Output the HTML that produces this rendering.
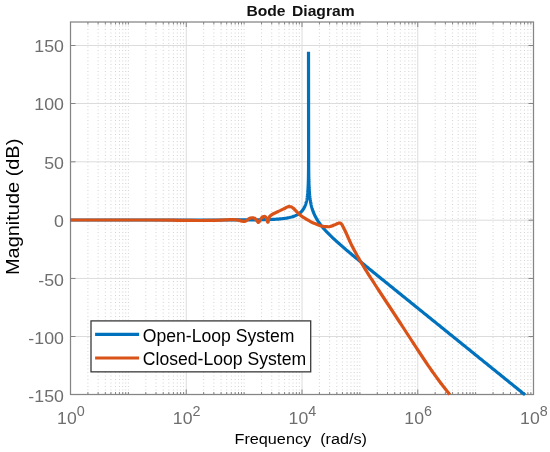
<!DOCTYPE html>
<html><head><meta charset="utf-8"><title>Bode Diagram</title>
<style>html,body{margin:0;padding:0;background:#fff;overflow:hidden}body{width:550px;height:452px;position:relative}</style></head>
<body>
<svg width="550" height="452" viewBox="0 0 550 452" style="position:absolute;left:0;top:0;font-family:'Liberation Sans',Arial,Helvetica,sans-serif">
<rect x="0" y="0" width="550" height="452" fill="#ffffff"/>
<path d="M87.92 22.0V394.5M98.11 22.0V394.5M105.34 22.0V394.5M110.95 22.0V394.5M115.54 22.0V394.5M119.41 22.0V394.5M122.77 22.0V394.5M125.73 22.0V394.5M128.38 22.0V394.5M145.80 22.0V394.5M155.99 22.0V394.5M163.22 22.0V394.5M168.83 22.0V394.5M173.41 22.0V394.5M177.29 22.0V394.5M180.64 22.0V394.5M183.60 22.0V394.5M203.67 22.0V394.5M213.86 22.0V394.5M221.09 22.0V394.5M226.70 22.0V394.5M231.29 22.0V394.5M235.16 22.0V394.5M238.52 22.0V394.5M241.48 22.0V394.5M244.12 22.0V394.5M261.55 22.0V394.5M271.74 22.0V394.5M278.97 22.0V394.5M284.58 22.0V394.5M289.16 22.0V394.5M293.04 22.0V394.5M296.39 22.0V394.5M299.35 22.0V394.5M319.42 22.0V394.5M329.61 22.0V394.5M336.84 22.0V394.5M342.45 22.0V394.5M347.04 22.0V394.5M350.91 22.0V394.5M354.27 22.0V394.5M357.23 22.0V394.5M359.88 22.0V394.5M377.30 22.0V394.5M387.49 22.0V394.5M394.72 22.0V394.5M400.33 22.0V394.5M404.91 22.0V394.5M408.79 22.0V394.5M412.14 22.0V394.5M415.10 22.0V394.5M435.17 22.0V394.5M445.36 22.0V394.5M452.59 22.0V394.5M458.20 22.0V394.5M462.79 22.0V394.5M466.66 22.0V394.5M470.02 22.0V394.5M472.98 22.0V394.5M475.62 22.0V394.5M493.05 22.0V394.5M503.24 22.0V394.5M510.47 22.0V394.5M516.08 22.0V394.5M520.66 22.0V394.5M524.54 22.0V394.5M527.89 22.0V394.5M530.85 22.0V394.5" fill="none" stroke="#d3d3d3" stroke-width="1" stroke-dasharray="1 2.5"/>
<path d="M186.25 22.0V394.5M302.00 22.0V394.5M417.75 22.0V394.5M70.5 45.50H533.5M70.5 103.50H533.5M70.5 161.80H533.5M70.5 220.20H533.5M70.5 278.45H533.5M70.5 336.50H533.5" fill="none" stroke="#dcdcdc" stroke-width="1"/>
<path d="M87.92 22.0v2.5M87.92 394.5v-2.5M98.11 22.0v2.5M98.11 394.5v-2.5M105.34 22.0v2.5M105.34 394.5v-2.5M110.95 22.0v2.5M110.95 394.5v-2.5M115.54 22.0v2.5M115.54 394.5v-2.5M119.41 22.0v2.5M119.41 394.5v-2.5M122.77 22.0v2.5M122.77 394.5v-2.5M125.73 22.0v2.5M125.73 394.5v-2.5M128.38 22.0v2.5M128.38 394.5v-2.5M145.80 22.0v2.5M145.80 394.5v-2.5M155.99 22.0v2.5M155.99 394.5v-2.5M163.22 22.0v2.5M163.22 394.5v-2.5M168.83 22.0v2.5M168.83 394.5v-2.5M173.41 22.0v2.5M173.41 394.5v-2.5M177.29 22.0v2.5M177.29 394.5v-2.5M180.64 22.0v2.5M180.64 394.5v-2.5M183.60 22.0v2.5M183.60 394.5v-2.5M186.25 22.0v5M186.25 394.5v-5M203.67 22.0v2.5M203.67 394.5v-2.5M213.86 22.0v2.5M213.86 394.5v-2.5M221.09 22.0v2.5M221.09 394.5v-2.5M226.70 22.0v2.5M226.70 394.5v-2.5M231.29 22.0v2.5M231.29 394.5v-2.5M235.16 22.0v2.5M235.16 394.5v-2.5M238.52 22.0v2.5M238.52 394.5v-2.5M241.48 22.0v2.5M241.48 394.5v-2.5M244.12 22.0v2.5M244.12 394.5v-2.5M261.55 22.0v2.5M261.55 394.5v-2.5M271.74 22.0v2.5M271.74 394.5v-2.5M278.97 22.0v2.5M278.97 394.5v-2.5M284.58 22.0v2.5M284.58 394.5v-2.5M289.16 22.0v2.5M289.16 394.5v-2.5M293.04 22.0v2.5M293.04 394.5v-2.5M296.39 22.0v2.5M296.39 394.5v-2.5M299.35 22.0v2.5M299.35 394.5v-2.5M302.00 22.0v5M302.00 394.5v-5M319.42 22.0v2.5M319.42 394.5v-2.5M329.61 22.0v2.5M329.61 394.5v-2.5M336.84 22.0v2.5M336.84 394.5v-2.5M342.45 22.0v2.5M342.45 394.5v-2.5M347.04 22.0v2.5M347.04 394.5v-2.5M350.91 22.0v2.5M350.91 394.5v-2.5M354.27 22.0v2.5M354.27 394.5v-2.5M357.23 22.0v2.5M357.23 394.5v-2.5M359.88 22.0v2.5M359.88 394.5v-2.5M377.30 22.0v2.5M377.30 394.5v-2.5M387.49 22.0v2.5M387.49 394.5v-2.5M394.72 22.0v2.5M394.72 394.5v-2.5M400.33 22.0v2.5M400.33 394.5v-2.5M404.91 22.0v2.5M404.91 394.5v-2.5M408.79 22.0v2.5M408.79 394.5v-2.5M412.14 22.0v2.5M412.14 394.5v-2.5M415.10 22.0v2.5M415.10 394.5v-2.5M417.75 22.0v5M417.75 394.5v-5M435.17 22.0v2.5M435.17 394.5v-2.5M445.36 22.0v2.5M445.36 394.5v-2.5M452.59 22.0v2.5M452.59 394.5v-2.5M458.20 22.0v2.5M458.20 394.5v-2.5M462.79 22.0v2.5M462.79 394.5v-2.5M466.66 22.0v2.5M466.66 394.5v-2.5M470.02 22.0v2.5M470.02 394.5v-2.5M472.98 22.0v2.5M472.98 394.5v-2.5M475.62 22.0v2.5M475.62 394.5v-2.5M493.05 22.0v2.5M493.05 394.5v-2.5M503.24 22.0v2.5M503.24 394.5v-2.5M510.47 22.0v2.5M510.47 394.5v-2.5M516.08 22.0v2.5M516.08 394.5v-2.5M520.66 22.0v2.5M520.66 394.5v-2.5M524.54 22.0v2.5M524.54 394.5v-2.5M527.89 22.0v2.5M527.89 394.5v-2.5M530.85 22.0v2.5M530.85 394.5v-2.5M70.5 45.50h5M533.5 45.50h-5M70.5 103.50h5M533.5 103.50h-5M70.5 161.80h5M533.5 161.80h-5M70.5 220.20h5M533.5 220.20h-5M70.5 278.45h5M533.5 278.45h-5M70.5 336.50h5M533.5 336.50h-5" fill="none" stroke="#858585" stroke-width="1"/>
<rect x="70.5" y="22.0" width="463.0" height="372.5" fill="none" stroke="#858585" stroke-width="1.25"/>
<path d="M70.50 220.00L71.50 220.00L72.50 220.00L73.50 220.00L74.50 220.00L75.50 220.00L76.50 220.00L77.50 220.00L78.50 220.00L79.50 220.00L80.50 220.00L81.50 220.00L82.50 220.00L83.50 220.00L84.50 220.00L85.50 220.00L86.50 220.00L87.50 220.00L88.50 220.00L89.50 220.00L90.50 220.00L91.50 220.00L92.50 220.00L93.50 220.00L94.50 220.00L95.50 220.00L96.50 220.00L97.50 220.00L98.50 220.00L99.50 220.00L100.50 220.00L101.50 220.00L102.50 220.00L103.50 220.00L104.50 220.00L105.50 220.00L106.50 220.00L107.50 220.00L108.50 220.00L109.50 220.00L110.50 220.00L111.50 220.00L112.50 220.00L113.50 220.00L114.50 220.00L115.50 220.00L116.50 220.00L117.50 220.00L118.50 220.00L119.50 220.00L120.50 220.00L121.50 220.00L122.50 220.00L123.50 220.00L124.50 220.00L125.50 220.00L126.50 220.00L127.50 220.00L128.50 220.00L129.50 220.00L130.50 220.00L131.50 220.00L132.50 220.00L133.50 220.00L134.50 220.00L135.50 220.00L136.50 220.00L137.50 220.00L138.50 220.00L139.50 220.00L140.50 220.00L141.50 220.00L142.50 220.00L143.50 220.00L144.50 220.00L145.50 220.00L146.50 220.00L147.50 220.00L148.50 220.00L149.50 220.00L150.50 220.00L151.50 220.00L152.50 220.00L153.50 220.00L154.50 220.00L155.50 220.00L156.50 220.00L157.50 220.00L158.50 220.00L159.50 220.00L160.50 220.00L161.50 220.00L162.50 220.00L163.50 220.00L164.50 220.00L165.50 220.00L166.50 220.00L167.50 220.00L168.50 220.00L169.50 220.00L170.50 220.00L171.50 220.00L172.50 220.00L173.50 220.00L174.50 220.00L175.50 220.00L176.50 220.00L177.50 220.00L178.50 220.00L179.50 220.00L180.50 220.00L181.50 220.00L182.50 220.00L183.50 220.00L184.50 220.00L185.50 220.00L186.50 220.00L187.50 220.00L188.50 220.00L189.50 220.00L190.50 220.00L191.50 220.00L192.50 220.00L193.50 220.00L194.50 220.00L195.50 220.00L196.50 220.00L197.50 220.00L198.50 220.00L199.50 220.00L200.50 220.00L201.50 220.00L202.50 220.00L203.50 220.00L204.50 220.00L205.50 220.00L206.50 220.00L207.50 220.00L208.50 220.00L209.50 220.00L210.50 220.00L211.50 220.00L212.50 220.00L213.50 219.99L214.50 219.99L215.50 219.99L216.50 219.99L217.50 219.99L218.50 219.99L219.50 219.99L220.50 219.99L221.50 219.99L222.50 219.99L223.50 219.99L224.50 219.99L225.50 219.99L226.50 219.99L227.50 219.98L228.50 219.98L229.50 219.98L230.50 219.98L231.50 219.98L232.50 219.98L233.50 219.97L234.50 219.97L235.50 219.97L236.50 219.97L237.50 219.96L238.50 219.96L239.50 219.96L240.50 219.96L241.50 219.95L242.50 219.95L243.50 219.94L244.50 219.94L245.50 219.93L246.50 219.93L247.50 219.92L248.50 219.92L249.50 219.91L250.50 219.90L251.50 219.89L252.50 219.88L253.50 219.87L254.50 219.86L255.50 219.85L256.50 219.84L257.50 219.83L258.50 219.81L259.50 219.80L260.50 219.78L261.50 219.76L262.50 219.74L263.50 219.72L264.50 219.69L265.50 219.67L266.50 219.64L267.50 219.61L268.50 219.58L269.50 219.54L270.50 219.50L271.50 219.46L272.50 219.41L273.50 219.36L274.50 219.31L275.50 219.25L276.50 219.18L277.50 219.11L278.50 219.04L279.50 218.95L280.50 218.86L281.50 218.76L282.50 218.65L283.50 218.53L284.50 218.40L285.50 218.25L286.50 218.09L287.50 217.92L288.50 217.72L289.50 217.51L290.50 217.27L291.50 217.01L292.50 216.72L293.50 216.39L294.50 216.03L295.50 215.61L296.50 215.15L297.50 214.62L298.50 214.01L299.50 213.31L300.00 212.92L300.05 212.88L300.10 212.84L300.15 212.80L300.20 212.76L300.25 212.71L300.30 212.67L300.35 212.63L300.40 212.58L300.45 212.54L300.50 212.50L300.55 212.45L300.60 212.41L300.65 212.36L300.70 212.32L300.75 212.27L300.80 212.22L300.85 212.18L300.90 212.13L300.95 212.08L301.00 212.03L301.05 211.99L301.10 211.94L301.15 211.89L301.20 211.84L301.25 211.79L301.30 211.74L301.35 211.69L301.40 211.63L301.45 211.58L301.50 211.53L301.55 211.48L301.60 211.42L301.65 211.37L301.70 211.31L301.75 211.26L301.80 211.20L301.85 211.15L301.90 211.09L301.95 211.03L302.00 210.98L302.05 210.92L302.10 210.86L302.15 210.80L302.20 210.74L302.25 210.68L302.30 210.62L302.35 210.56L302.40 210.49L302.45 210.43L302.50 210.37L302.55 210.30L302.60 210.24L302.65 210.17L302.70 210.11L302.75 210.04L302.80 209.97L302.85 209.90L302.90 209.83L302.95 209.76L303.00 209.69L303.05 209.62L303.10 209.55L303.15 209.47L303.20 209.40L303.25 209.32L303.30 209.25L303.35 209.17L303.40 209.09L303.45 209.02L303.50 208.94L303.55 208.86L303.60 208.77L303.65 208.69L303.70 208.61L303.75 208.52L303.80 208.44L303.85 208.35L303.90 208.26L303.95 208.18L304.00 208.09L304.05 207.99L304.10 207.90L304.15 207.81L304.20 207.71L304.25 207.62L304.30 207.52L304.35 207.42L304.40 207.32L304.45 207.22L304.50 207.12L304.55 207.01L304.60 206.91L304.65 206.80L304.70 206.69L304.75 206.58L304.80 206.47L304.85 206.35L304.90 206.24L304.95 206.12L305.00 206.00L305.05 205.88L305.10 205.76L305.15 205.63L305.20 205.50L305.25 205.37L305.30 205.24L305.35 205.11L305.40 204.97L305.45 204.83L305.50 204.69L305.55 204.55L305.60 204.40L305.65 204.25L305.70 204.10L305.75 203.94L305.80 203.79L305.85 203.62L305.90 203.46L305.95 203.29L306.00 203.12L306.05 202.94L306.10 202.76L306.15 202.58L306.20 202.39L306.25 202.20L306.30 202.01L306.35 201.81L306.40 201.60L306.45 201.39L306.50 201.17L306.55 200.95L306.60 200.72L306.65 200.49L306.70 200.25L306.75 200.00L306.80 199.75L306.85 199.49L306.90 199.22L306.95 198.94L307.00 198.65L307.05 198.35L307.10 198.05L307.15 197.73L307.20 197.40L307.25 197.06L307.30 196.70L307.35 196.33L307.40 195.94L307.45 195.54L307.50 195.12L307.55 194.68L307.60 194.21L307.65 193.73L307.70 193.21L307.75 192.67L307.80 192.09L307.85 191.47L307.90 190.81L307.95 190.11L308.00 189.34L308.05 188.51L308.10 187.60L308.15 186.60L308.20 185.49L308.25 184.22L308.30 182.78L308.35 181.08L308.40 179.03L308.45 176.44L308.50 172.94L308.55 167.52L308.60 154.88L308.50 51.75L308.65 159.00L308.70 168.93L308.75 173.85L308.80 177.16L308.85 179.66L308.90 181.67L308.95 183.35L309.00 184.80L309.05 186.06L309.10 187.20L309.15 188.22L309.20 189.15L309.25 190.01L309.30 190.80L309.35 191.54L309.40 192.22L309.45 192.87L309.50 193.48L309.55 194.06L309.60 194.61L309.65 195.14L309.70 195.64L309.75 196.11L309.80 196.57L309.85 197.01L309.90 197.43L309.95 197.84L310.00 198.24L310.05 198.62L310.10 198.98L310.15 199.34L310.20 199.69L310.25 200.02L310.30 200.35L310.35 200.66L310.40 200.97L310.45 201.27L310.50 201.57L310.55 201.85L310.60 202.13L310.65 202.40L310.70 202.67L310.75 202.93L310.80 203.19L310.85 203.44L310.90 203.68L310.95 203.92L311.00 204.16L311.05 204.39L311.10 204.61L311.15 204.84L311.20 205.05L311.25 205.27L311.30 205.48L311.35 205.69L311.40 205.89L311.45 206.09L311.50 206.29L311.55 206.49L311.60 206.68L311.65 206.87L311.70 207.05L311.75 207.24L311.80 207.42L311.85 207.60L311.90 207.77L311.95 207.95L312.00 208.12L312.05 208.29L312.10 208.45L312.15 208.62L312.20 208.78L312.25 208.94L312.30 209.10L312.35 209.26L312.40 209.42L312.45 209.57L312.50 209.72L312.55 209.87L312.60 210.02L312.65 210.17L312.70 210.32L312.75 210.46L312.80 210.60L312.85 210.74L312.90 210.88L312.95 211.02L313.00 211.16L313.05 211.30L313.10 211.43L313.15 211.56L313.20 211.70L313.25 211.83L313.30 211.96L313.35 212.09L313.40 212.21L313.45 212.34L313.50 212.47L313.55 212.59L313.60 212.71L313.65 212.84L313.70 212.96L313.75 213.08L313.80 213.20L313.85 213.32L313.90 213.43L313.95 213.55L314.00 213.67L314.05 213.78L314.10 213.90L314.15 214.01L314.20 214.12L314.25 214.23L314.30 214.34L314.35 214.45L314.40 214.56L314.45 214.67L314.50 214.78L314.55 214.89L314.60 214.99L314.65 215.10L314.70 215.20L314.75 215.31L314.80 215.41L314.85 215.52L314.90 215.62L314.95 215.72L315.00 215.82L315.05 215.92L315.10 216.02L315.15 216.12L315.20 216.22L315.25 216.32L315.30 216.42L315.35 216.51L315.40 216.61L315.45 216.71L315.50 216.80L315.55 216.90L315.60 216.99L315.65 217.09L315.70 217.18L315.75 217.27L315.80 217.37L315.85 217.46L315.90 217.55L315.95 217.64L316.00 217.73L316.05 217.82L316.10 217.91L316.15 218.00L316.20 218.09L316.25 218.18L316.30 218.27L316.35 218.36L316.40 218.44L316.45 218.53L316.50 218.62L316.55 218.70L316.60 218.79L316.65 218.87L316.70 218.96L316.75 219.04L316.80 219.13L316.85 219.21L316.90 219.29L316.95 219.38L317.00 219.46L317.05 219.54L317.10 219.62L317.15 219.71L317.20 219.79L317.25 219.87L317.30 219.95L317.35 220.03L317.40 220.11L317.45 220.19L317.50 220.27L317.55 220.35L317.60 220.43L317.65 220.51L317.70 220.58L317.75 220.66L317.80 220.74L317.85 220.82L317.90 220.90L317.95 220.97L318.00 221.05L319.00 222.53L320.00 223.92L321.00 225.23L322.00 226.49L323.00 227.69L324.00 228.85L325.00 229.97L326.00 231.06L327.00 232.12L328.00 233.15L329.00 234.16L330.00 235.16L331.00 236.14L332.00 237.10L333.00 238.05L334.00 238.99L335.00 239.91L336.00 240.83L337.00 241.74L338.00 242.63L339.00 243.52L340.00 244.41L341.00 245.29L342.00 246.16L343.00 247.02L344.00 247.89L345.00 248.74L346.00 249.60L347.00 250.45L348.00 251.29L349.00 252.14L350.00 252.98L351.00 253.82L352.00 254.65L353.00 255.48L354.00 256.32L355.00 257.15L356.00 257.97L357.00 258.80L358.00 259.63L359.00 260.45L360.00 261.27L361.00 262.09L362.00 262.91L363.00 263.73L364.00 264.55L365.00 265.37L366.00 266.19L367.00 267.00L368.00 267.82L369.00 268.64L370.00 269.45L371.00 270.26L372.00 271.08L373.00 271.89L374.00 272.70L375.00 273.52L376.00 274.33L377.00 275.14L378.00 275.95L379.00 276.76L380.00 277.58L381.00 278.39L382.00 279.20L383.00 280.01L384.00 280.82L385.00 281.63L386.00 282.44L387.00 283.25L388.00 284.06L389.00 284.87L390.00 285.68L391.00 286.49L392.00 287.30L393.00 288.11L394.00 288.92L395.00 289.72L396.00 290.53L397.00 291.34L398.00 292.15L399.00 292.96L400.00 293.77L401.00 294.58L402.00 295.39L403.00 296.20L404.00 297.01L405.00 297.81L406.00 298.62L407.00 299.43L408.00 300.24L409.00 301.05L410.00 301.86L411.00 302.67L412.00 303.47L413.00 304.28L414.00 305.09L415.00 305.90L416.00 306.71L417.00 307.52L418.00 308.33L419.00 309.13L420.00 309.94L421.00 310.75L422.00 311.56L423.00 312.37L424.00 313.18L425.00 313.98L426.00 314.79L427.00 315.60L428.00 316.41L429.00 317.22L430.00 318.03L431.00 318.84L432.00 319.64L433.00 320.45L434.00 321.26L435.00 322.07L436.00 322.88L437.00 323.69L438.00 324.49L439.00 325.30L440.00 326.11L441.00 326.92L442.00 327.73L443.00 328.54L444.00 329.34L445.00 330.15L446.00 330.96L447.00 331.77L448.00 332.58L449.00 333.39L450.00 334.19L451.00 335.00L452.00 335.81L453.00 336.62L454.00 337.43L455.00 338.24L456.00 339.04L457.00 339.85L458.00 340.66L459.00 341.47L460.00 342.28L461.00 343.09L462.00 343.89L463.00 344.70L464.00 345.51L465.00 346.32L466.00 347.13L467.00 347.94L468.00 348.74L469.00 349.55L470.00 350.36L471.00 351.17L472.00 351.98L473.00 352.79L474.00 353.59L475.00 354.40L476.00 355.21L477.00 356.02L478.00 356.83L479.00 357.64L480.00 358.44L481.00 359.25L482.00 360.06L483.00 360.87L484.00 361.68L485.00 362.49L486.00 363.29L487.00 364.10L488.00 364.91L489.00 365.72L490.00 366.53L491.00 367.34L492.00 368.14L493.00 368.95L494.00 369.76L495.00 370.57L496.00 371.38L497.00 372.19L498.00 372.99L499.00 373.80L500.00 374.61L501.00 375.42L502.00 376.23L503.00 377.04L504.00 377.85L505.00 378.65L506.00 379.46L507.00 380.27L508.00 381.08L509.00 381.89L510.00 382.70L511.00 383.50L512.00 384.31L513.00 385.12L514.00 385.93L515.00 386.74L516.00 387.55L517.00 388.35L518.00 389.16L519.00 389.97L520.00 390.78L521.00 391.59L522.00 392.40L523.00 393.20L524.00 394.01L525.10 394.80" fill="none" stroke="#0072BD" stroke-width="3.2" stroke-linejoin="bevel"/>
<path d="M70.50 220.00C97.00 220.00 113.50 219.90 150.00 220.00C186.50 220.10 163.33 220.13 180.00 220.30C196.67 220.47 188.33 220.50 200.00 220.50C211.67 220.50 206.67 220.50 215.00 220.30C223.33 220.10 219.10 220.13 225.00 219.90C230.90 219.67 228.37 219.50 232.70 219.60C237.03 219.70 234.37 219.63 238.00 220.20C241.63 220.77 240.77 221.17 243.60 221.30C246.43 221.43 244.57 221.50 246.50 220.60C248.43 219.70 247.17 219.53 249.40 218.60C251.63 217.67 251.03 217.50 253.20 217.80C255.37 218.10 254.43 218.23 255.90 219.50C257.37 220.77 256.67 220.70 257.60 221.60C258.53 222.50 257.97 222.47 258.70 222.20C259.43 221.93 259.10 221.90 259.80 220.80C260.50 219.70 259.73 220.23 260.80 218.90C261.87 217.57 261.53 217.53 263.00 216.80C264.47 216.07 264.03 216.20 265.20 216.70C266.37 217.20 265.80 216.93 266.50 218.30C267.20 219.67 266.83 219.50 267.30 220.80C267.77 222.10 267.50 222.30 267.90 222.20C268.30 222.10 268.07 221.97 268.50 220.50C268.93 219.03 268.30 219.60 269.20 217.80C270.10 216.00 268.37 217.10 271.20 215.10C274.03 213.10 273.70 213.80 277.70 211.80C281.70 209.80 279.93 210.70 283.20 209.10C286.47 207.50 285.13 207.80 287.50 207.00C289.87 206.20 288.47 206.37 290.30 206.70C292.13 207.03 290.63 206.10 293.00 208.00C295.37 209.90 294.50 209.67 297.40 212.40C300.30 215.13 299.00 214.13 301.70 216.20C304.40 218.27 302.43 216.73 305.50 218.60C308.57 220.47 307.40 220.00 310.90 221.80C314.40 223.60 313.10 222.77 316.00 224.00C318.90 225.23 317.17 224.70 319.60 225.50C322.03 226.30 320.87 226.00 323.30 226.40C325.73 226.80 324.50 226.70 326.90 226.70C329.30 226.70 328.07 226.93 330.50 226.40C332.93 225.87 331.77 226.07 334.20 225.10C336.63 224.13 336.00 224.18 337.80 223.50C339.60 222.82 338.40 222.88 339.60 223.05C340.80 223.22 340.30 222.85 341.40 224.00C342.50 225.15 341.60 224.07 342.90 226.50C344.20 228.93 343.78 228.13 345.30 231.30C346.82 234.47 345.86 232.43 347.47 236.00C349.09 239.57 348.27 238.00 350.15 242.00C352.02 246.00 351.05 244.00 353.10 248.00C355.16 252.00 354.11 250.00 356.31 254.00C358.51 258.00 357.39 256.00 359.71 260.00C362.04 264.00 360.86 262.00 363.28 266.00C365.70 270.00 364.48 268.00 366.98 272.00C369.47 276.00 368.22 274.00 370.77 278.00C373.32 282.00 372.04 280.00 374.64 284.00C377.23 288.00 375.93 286.00 378.55 290.00C381.17 294.00 379.86 292.00 382.49 296.00C385.12 300.00 383.81 298.00 386.44 302.00C389.08 306.00 387.77 304.00 390.40 308.00C393.03 312.00 391.72 310.00 394.35 314.00C396.97 318.00 395.66 316.00 398.28 320.00C400.90 324.00 399.59 322.00 402.20 326.00C404.81 330.00 403.50 328.00 406.11 332.00C408.71 336.00 407.40 334.00 410.01 338.00C412.61 342.00 411.30 340.00 413.92 344.00C416.53 348.00 415.21 346.00 417.84 350.00C420.47 354.00 419.14 352.00 421.80 356.00C424.46 360.00 423.12 358.00 425.82 362.00C428.53 366.00 427.15 364.00 429.92 368.00C432.70 372.00 431.28 370.00 434.14 374.00C436.99 378.00 435.53 376.00 438.49 380.00C441.45 384.00 439.93 382.00 443.03 386.00C446.12 390.00 445.51 389.17 447.78 392.00C450.05 394.83 449.15 393.67 449.83 394.50" fill="none" stroke="#D95319" stroke-width="3.2" stroke-linejoin="round"/>
<rect x="91.0" y="320.9" width="219.7" height="50.95" fill="#ffffff" stroke="#3a3a3a" stroke-width="1.3"/>
<path d="M95.1 334.45H139.1" stroke="#0072BD" stroke-width="3.2"/>
<path d="M95.1 358H139.1" stroke="#D95319" stroke-width="3.2"/>
<text x="142.8" y="341.7" font-size="17.6" fill="#000">Open-Loop System</text>
<text x="142.8" y="365.0" font-size="17.6" fill="#000">Closed-Loop System</text>
<text x="246.4" y="16.4" font-size="14.4" font-weight="bold" fill="#111" word-spacing="2" textLength="108.2" lengthAdjust="spacingAndGlyphs">Bode Diagram</text>
<text x="234.5" y="444" font-size="15.2" fill="#000" textLength="132.5" lengthAdjust="spacingAndGlyphs" xml:space="preserve" style="white-space:pre">Frequency  (rad/s)</text>
<text transform="translate(19.3 275) rotate(-90)" x="0" y="0" font-size="18.3" fill="#000" textLength="136.3" lengthAdjust="spacingAndGlyphs">Magnitude (dB)</text>
<text x="63.9" y="51.85" font-size="16.6" fill="#6e6e6e" text-anchor="end" transform="translate(63.9 0) scale(1.07 1) translate(-63.9 0)">150</text>
<text x="63.9" y="110.08" font-size="16.6" fill="#6e6e6e" text-anchor="end" transform="translate(63.9 0) scale(1.07 1) translate(-63.9 0)">100</text>
<text x="63.9" y="168.62" font-size="16.6" fill="#6e6e6e" text-anchor="end" transform="translate(63.9 0) scale(1.07 1) translate(-63.9 0)">50</text>
<text x="63.9" y="227.25" font-size="16.6" fill="#6e6e6e" text-anchor="end" transform="translate(63.9 0) scale(1.07 1) translate(-63.9 0)">0</text>
<text x="63.9" y="285.73" font-size="16.6" fill="#6e6e6e" text-anchor="end" transform="translate(63.9 0) scale(1.07 1) translate(-63.9 0)">-50</text>
<text x="63.9" y="344.02" font-size="16.6" fill="#6e6e6e" text-anchor="end" transform="translate(63.9 0) scale(1.07 1) translate(-63.9 0)">-100</text>
<text x="63.9" y="402.25" font-size="16.6" fill="#6e6e6e" text-anchor="end" transform="translate(63.9 0) scale(1.07 1) translate(-63.9 0)">-150</text>
<text x="57.10" y="423.9" font-size="16.3" fill="#6e6e6e" textLength="19.6" lengthAdjust="spacingAndGlyphs">10</text>
<text x="76.70" y="415.7" font-size="13.8" fill="#6e6e6e" textLength="8.0" lengthAdjust="spacingAndGlyphs">0</text>
<text x="172.85" y="423.9" font-size="16.3" fill="#6e6e6e" textLength="19.6" lengthAdjust="spacingAndGlyphs">10</text>
<text x="192.45" y="415.7" font-size="13.8" fill="#6e6e6e" textLength="8.0" lengthAdjust="spacingAndGlyphs">2</text>
<text x="288.60" y="423.9" font-size="16.3" fill="#6e6e6e" textLength="19.6" lengthAdjust="spacingAndGlyphs">10</text>
<text x="308.20" y="415.7" font-size="13.8" fill="#6e6e6e" textLength="8.0" lengthAdjust="spacingAndGlyphs">4</text>
<text x="404.35" y="423.9" font-size="16.3" fill="#6e6e6e" textLength="19.6" lengthAdjust="spacingAndGlyphs">10</text>
<text x="423.95" y="415.7" font-size="13.8" fill="#6e6e6e" textLength="8.0" lengthAdjust="spacingAndGlyphs">6</text>
<text x="520.10" y="423.9" font-size="16.3" fill="#6e6e6e" textLength="19.6" lengthAdjust="spacingAndGlyphs">10</text>
<text x="539.70" y="415.7" font-size="13.8" fill="#6e6e6e" textLength="8.0" lengthAdjust="spacingAndGlyphs">8</text>
</svg>
</body></html>
